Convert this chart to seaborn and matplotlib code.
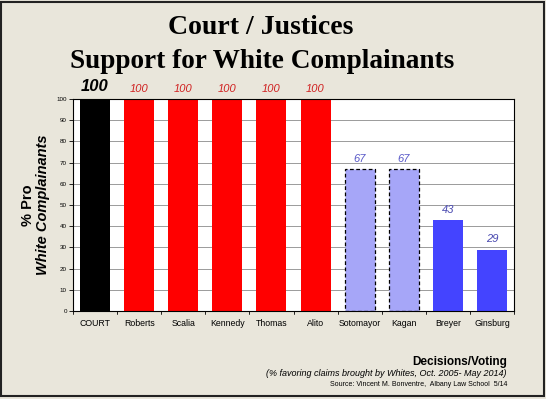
import matplotlib
matplotlib.use("Agg")
import matplotlib.pyplot as plt
import seaborn as sns
import pandas as pd
import numpy as np
from matplotlib.patches import Rectangle

categories = ["COURT", "Roberts", "Scalia", "Kennedy", "Thomas", "Alito",
              "Sotomayor", "Kagan", "Breyer", "Ginsburg"]
values = [100, 100, 100, 100, 100, 100, 67, 67, 43, 29]
bar_colors = ["#000000", "#FF0000", "#FF0000", "#FF0000", "#FF0000", "#FF0000",
              "#A6A6F8", "#A6A6F8", "#4444FF", "#4444FF"]
label_colors = ["#000000", "#D02020", "#D02020", "#D02020", "#D02020", "#D02020",
                "#5A5AC8", "#5A5AC8", "#4A4AB0", "#4A4AB0"]
yticks = list(range(0, 101, 10))

df = pd.DataFrame({"name": categories, "pct": values})

sns.set_style("white")
plt.rcParams["font.family"] = ["Liberation Sans", "DejaVu Sans"]
plt.rcParams["text.color"] = "black"
plt.rcParams["xtick.color"] = "black"
plt.rcParams["ytick.color"] = "black"

fig = plt.figure(figsize=(5.46, 3.99), dpi=100)
fig.patch.set_facecolor("#E9E6DB")
ax = fig.add_axes([73/546, 1-311/399, (514-73)/546, (311-99)/399])
ax.set_facecolor("white")

sns.barplot(data=df, x="name", y="pct", hue="name", palette=bar_colors,
            legend=False, width=0.68, saturation=1, ax=ax, edgecolor="none")

for i, p in enumerate(ax.patches):
    if categories[i] in ("Sotomayor", "Kagan"):
        p.set_edgecolor("black")
        p.set_linestyle((0, (3, 2)))
        p.set_linewidth(0.9)

ax.set_ylim(0, 100)
ax.set_xlim(-0.5, len(categories) - 0.5)
ax.set_yticks(yticks)
ax.set_yticklabels([str(t) for t in yticks], fontsize=4.5)
ax.yaxis.grid(True, color="#8A8A8A", linewidth=0.6)
ax.set_axisbelow(True)
ax.set_xticks(range(len(categories)))
ax.set_xticklabels(categories, fontsize=6.3)
ax.tick_params(axis="x", length=0, pad=6)
ax.tick_params(axis="y", length=3, width=0.6, direction="out", pad=1.5, left=True)
for b in np.arange(-0.5, len(categories), 1.0):
    ax.plot([b, b], [0, -1.5], color="black", lw=0.6, clip_on=False)
for s in ax.spines.values():
    s.set_color("black")
    s.set_linewidth(0.8)
ax.set_xlabel("")
ax.set_ylabel("")

for i, v in enumerate(values):
    if i == 0:
        ax.text(i, v + 2.5, str(v), ha="center", va="bottom", fontsize=12,
                fontweight="bold", fontstyle="italic", color=label_colors[i])
    else:
        ax.text(i, v + 2.5, str(v), ha="center", va="bottom", fontsize=8,
                fontstyle="italic", color=label_colors[i])

fig.text(261/546, 1-28/399, "Court / Justices", ha="center", va="center",
         fontsize=20, fontweight="bold", family="Liberation Serif", color="black")
fig.text(262/546, 1-61/399, "Support for White Complainants", ha="center", va="center",
         fontsize=19.6, fontweight="bold", family="Liberation Serif", color="black")

fig.text(28/546, 1-205/399, "% Pro", rotation=90, ha="center", va="center",
         fontsize=10.5, fontweight="bold")
fig.text(43/546, 1-205/399, "White Complainants", rotation=90, ha="center", va="center",
         fontsize=10.5, fontweight="bold", fontstyle="italic")

fig.text(507/546, 1-362/399, "Decisions/Voting", ha="right", va="center",
         fontsize=8.5, fontweight="bold")
fig.text(507/546, 1-374/399, "(% favoring claims brought by Whites, Oct. 2005- May 2014)",
         ha="right", va="center", fontsize=6.5, fontstyle="italic")
fig.text(507/546, 1-385/399, "Source: Vincent M. Bonventre,  Albany Law School  5/14",
         ha="right", va="center", fontsize=5)

fig.patches.append(Rectangle((1/546, 1-396/399), 543/546, 394/399, transform=fig.transFigure,
                             fill=False, edgecolor="#222222", linewidth=1.5))

fig.savefig("out.png", dpi=100, facecolor=fig.get_facecolor())
